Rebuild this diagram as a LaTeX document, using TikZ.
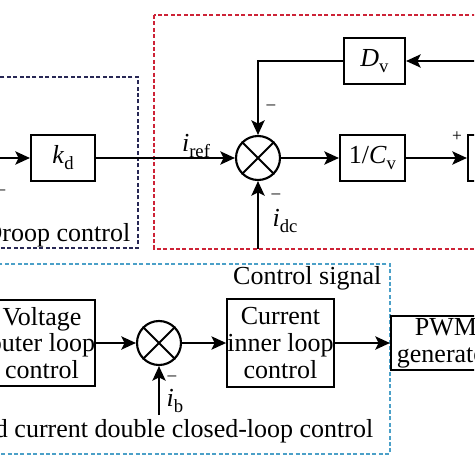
\documentclass[tikz,border=0pt]{standalone}
\usepackage{fontspec}
\setmainfont{Liberation Serif}
\usetikzlibrary{arrows.meta}
\definecolor{navyd}{RGB}{40,40,85}
\definecolor{redd}{RGB}{205,35,55}
\definecolor{cyand}{RGB}{75,160,200}
\newcommand{\lsub}[1]{\raisebox{-0.5ex}{\fontsize{14}{14}\selectfont #1}}
\begin{document}
\begin{tikzpicture}[x=0.75pt,y=-0.75pt,
  every node/.style={font=\fontsize{19.5}{20}\selectfont},
  blk/.style={draw, line width=1.6pt, inner sep=0pt, align=center},
  sumj/.style={draw, circle, line width=1.6pt, minimum size=33pt, inner sep=0pt},
  arr/.style={line width=1.4pt, -{Stealth[length=11pt,width=10pt,inset=2.5pt]}},
  grp/.style={line width=1.3pt, dash pattern=on 3pt off 1.8pt},
  sign/.style={inner sep=0pt, font=\fontsize{13}{13}\selectfont}]
\clip (0,0) rectangle (474,474);
\fill[white] (0,0) rectangle (474,474);
% group frames
\draw[grp, navyd] (-20,77) rectangle (138,248);
\draw[grp, redd] (154,15) rectangle (500,249);
\draw[grp, cyand] (-20,264) rectangle (390,454);
% top blocks
\node[blk, minimum width=48pt, minimum height=34.5pt] (kd) at (63,158) {\textit{k}\lsub{d}};
\node[sumj] (s1) at (258,158) {};
\draw[line width=1.4pt] (s1.north west) -- (s1.south east) (s1.north east) -- (s1.south west);
\node[blk, minimum width=45.75pt, minimum height=34.5pt] (dv) at (374.5,61) {\textit{D}\lsub{v}};
\node[blk, minimum width=48.75pt, minimum height=34.5pt] (cv) at (372.5,158) {1/\textit{C}\lsub{v}};
\node[blk, minimum width=48pt, minimum height=34.5pt] (rb) at (500,158) {};
\coordinate (inL) at (-10,158);
\coordinate (fbR) at (490,61);
\coordinate (idcS) at (258,249);
\draw[arr] (inL) -- (kd.west);
\draw[arr] (kd.east) -- (s1.west);
\draw[arr] (fbR) -- (dv.east);
\draw[arr] (dv.west) -| (s1.north);
\draw[arr] (s1.east) -- (cv.west);
\draw[arr] (cv.east) -- (rb.west);
\draw[arr] (idcS) -- (s1.south);
\node[sign] (m0) at (1,192) {--};
\node (iref) at (196,146) {\textit{i}\lsub{ref}};
\node[sign] (m1) at (271,107) {--};
\node[sign] (p1) at (457,137) {+};
\node[sign] (m2) at (276,196) {--};
\node (idc) at (285,221) {\textit{i}\lsub{dc}};
\node[anchor=east] (droop) at (135,235) {Droop control};
% bottom blocks
\node[blk, minimum width=79.5pt, minimum height=64.5pt] (vo) at (42,343) {Voltage\\outer loop\\control};
\node[sumj] (s2) at (159,343) {};
\draw[line width=1.4pt] (s2.north west) -- (s2.south east) (s2.north east) -- (s2.south west);
\node[blk, minimum width=80pt, minimum height=66pt] (ci) at (280.5,343) {Current\\inner loop\\control};
\node[blk, minimum width=82.5pt, minimum height=40.5pt] (pwm) at (446,343) {PWM\\generator};
\coordinate (ibS) at (159,415);
\draw[arr] (vo.east) -- (s2.west);
\draw[arr] (s2.east) -- (ci.west);
\draw[arr] (ci.east) -- (pwm.west);
\draw[arr] (ibS) -- (s2.south);
\node[sign] (m3) at (172,378) {--};
\node (ib) at (175,401) {\textit{i}\lsub{b}};
\node[anchor=east] (cs) at (386,278) {Control signal};
\node[anchor=east] (vc) at (378,431) {Voltage and current double closed-loop control};
\end{tikzpicture}
\end{document}
